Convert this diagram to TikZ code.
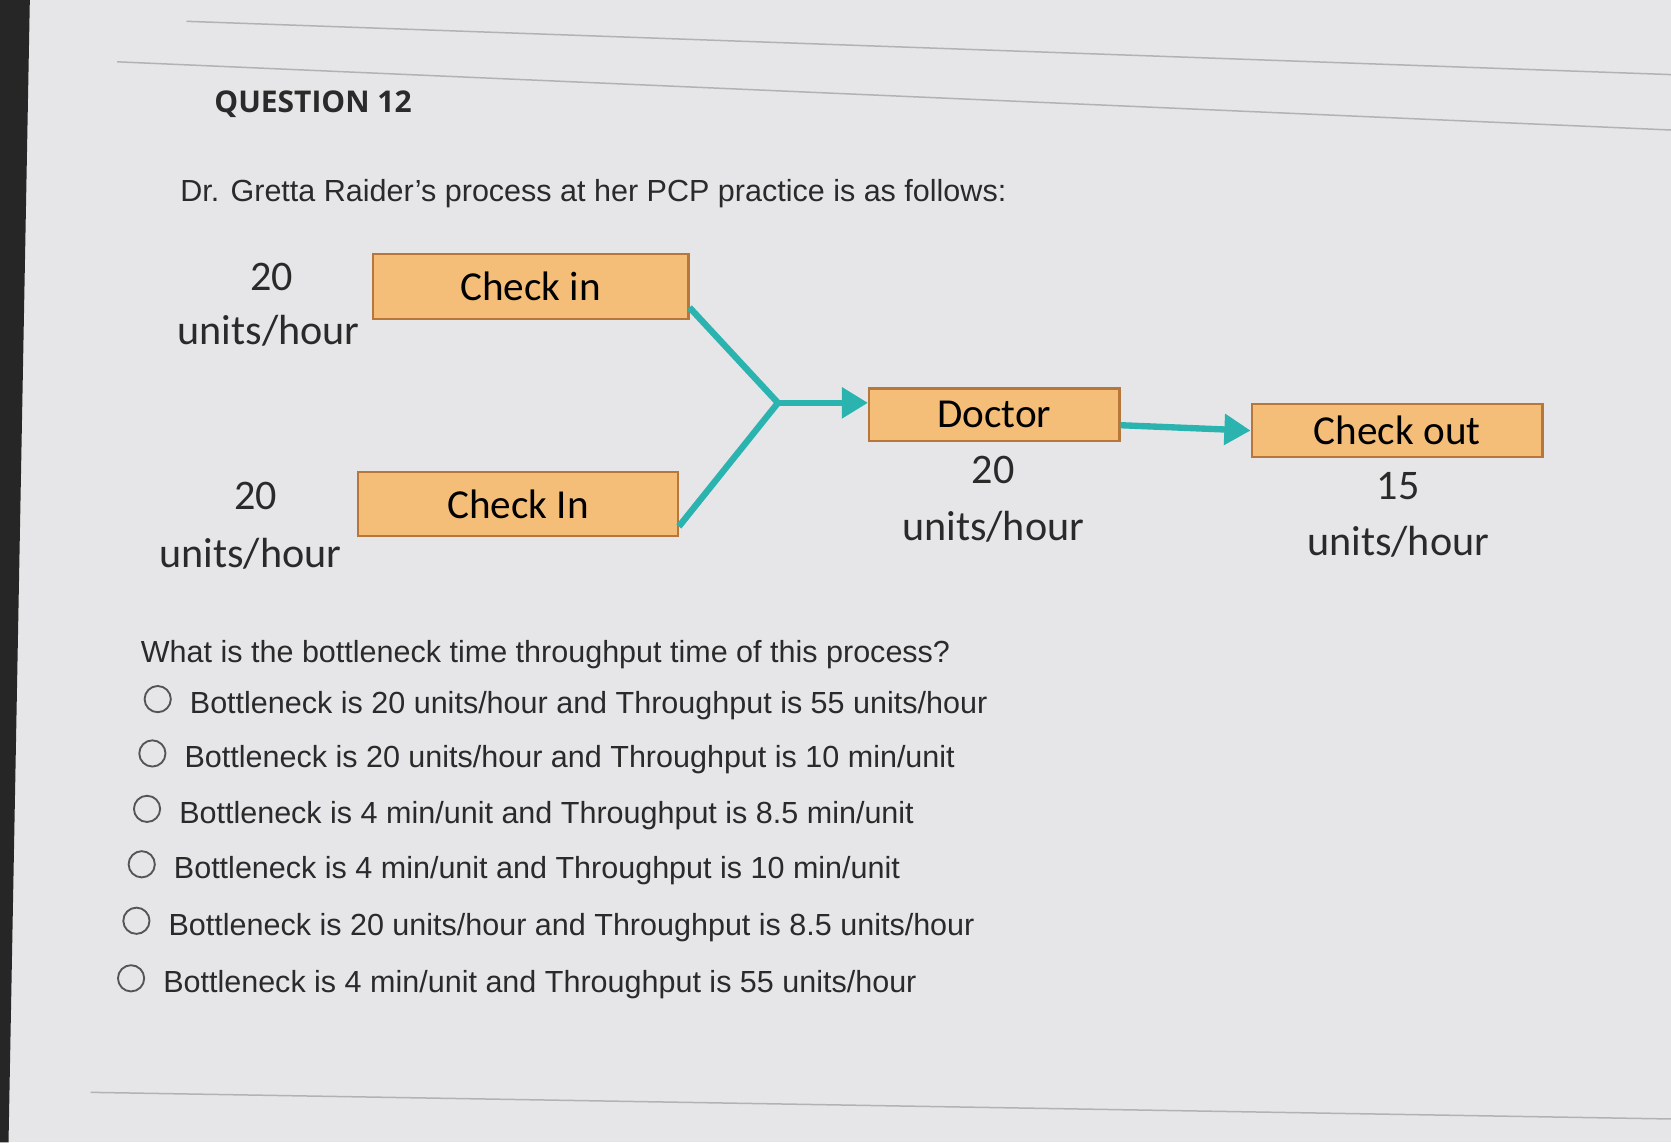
\documentclass[tikz,border=0pt]{standalone}
\usepackage{fontspec}
\setmainfont{Liberation Sans}
\newfontfamily\boxfont{Carlito}
\newfontfamily\headfont{Open Sans}
\usetikzlibrary{arrows.meta}
\definecolor{bg}{HTML}{E6E6E8}
\definecolor{boxfill}{HTML}{F4BE78}
\definecolor{boxline}{HTML}{B8773A}
\definecolor{teal}{HTML}{2BB3B0}
\definecolor{txt}{HTML}{2A2A2A}
\tikzset{
 px/.style={x=0.02cm,y=-0.02cm},
 stage/.style={draw=boxline,line width=1.2pt,fill=boxfill,font=\boxfont\fontsize{22}{24}\selectfont,text=black,inner sep=0pt},
 rate/.style={font=\boxfont\fontsize{22.5}{24}\selectfont,text=txt,anchor=center},
 body/.style={font=\fontsize{16.3}{19}\selectfont,text=txt,anchor=west},
 flow/.style={teal,line width=3.4pt},
 flowarr/.style={flow,-{Triangle[length=14pt,width=16pt]}},
 radio/.style={circle,draw=txt!80,line width=1pt,minimum size=14pt,inner sep=0pt}
}
\begin{document}
\begin{tikzpicture}[px]
\fill[bg] (0,0) rectangle (1568,1072);
\useasboundingbox (0,0) rectangle (1568,1072);
\fill[black!85] (0,0) -- (28,0) -- (8,1072) -- (0,1072) -- cycle;
\draw[gray!60,line width=0.8pt] (175,20) -- (1568,70);
\draw[gray!60,line width=0.8pt] (110,58) -- (1568,122);
\draw[gray!60,line width=0.8pt] (85,1025) -- (1568,1050);
\node[font=\headfont\bfseries\fontsize{16}{18}\selectfont,text=txt,anchor=west] (q) at (195,98) {QUESTION 12};
\node[body] (intro) at (163,182) {Dr. Gretta Raider's process at her PCP practice is as follows:};
\node[stage,minimum width=5.92cm,minimum height=1.22cm] (ci1) at (498,269) {Check in};
\node[stage,minimum width=6.0cm,minimum height=1.2cm] (ci2) at (486,473) {Check In};
\node[stage,minimum width=4.7cm,minimum height=0.98cm] (doc) at (933,389) {Doctor};
\node[stage,minimum width=5.46cm,minimum height=1.0cm] (co) at (1311,404) {Check out};
\node[rate] (r1a) at (255,260) {20};
\node[rate] (r1b) at (252,310) {units/hour};
\node[rate] (r2a) at (240,465) {20};
\node[rate] (r2b) at (235,520) {units/hour};
\node[rate] (r3a) at (932,441) {20};
\node[rate] (r3b) at (932,494) {units/hour};
\node[rate] (r4a) at (1312,456) {15};
\node[rate] (r4b) at (1312,508) {units/hour};
\coordinate (j) at (730,378);
\draw[flow,line join=round] (ci1.south east) ++(0,-12) -- (j) -- ([yshift=0.2cm]ci2.south east);
\draw[flowarr] (j) -- (j -| doc.west);
\draw[flowarr] ([yshift=-0.2cm]doc.east) -- (co.west);
\node[body] (ques) at (126,614) {What is the bottleneck time throughput time of this process?};
\node[radio] (o1) at (148,656) {}; \node[body] (t1) at (172,662) {Bottleneck is 20 units/hour and Throughput is 55 units/hour};
\node[radio] (o2) at (143,707) {}; \node[body] (t2) at (167,713) {Bottleneck is 20 units/hour and Throughput is 10 min/unit};
\node[radio] (o3) at (138,759) {}; \node[body] (t3) at (162,765) {Bottleneck is 4 min/unit and Throughput is 8.5 min/unit};
\node[radio] (o4) at (133,811) {}; \node[body] (t4) at (157,817) {Bottleneck is 4 min/unit and Throughput is 10 min/unit};
\node[radio] (o5) at (128,864) {}; \node[body] (t5) at (152,870) {Bottleneck is 20 units/hour and Throughput is 8.5 units/hour};
\node[radio] (o6) at (123,918) {}; \node[body] (t6) at (147,924) {Bottleneck is 4 min/unit and Throughput is 55 units/hour};
\end{tikzpicture}
\end{document}
